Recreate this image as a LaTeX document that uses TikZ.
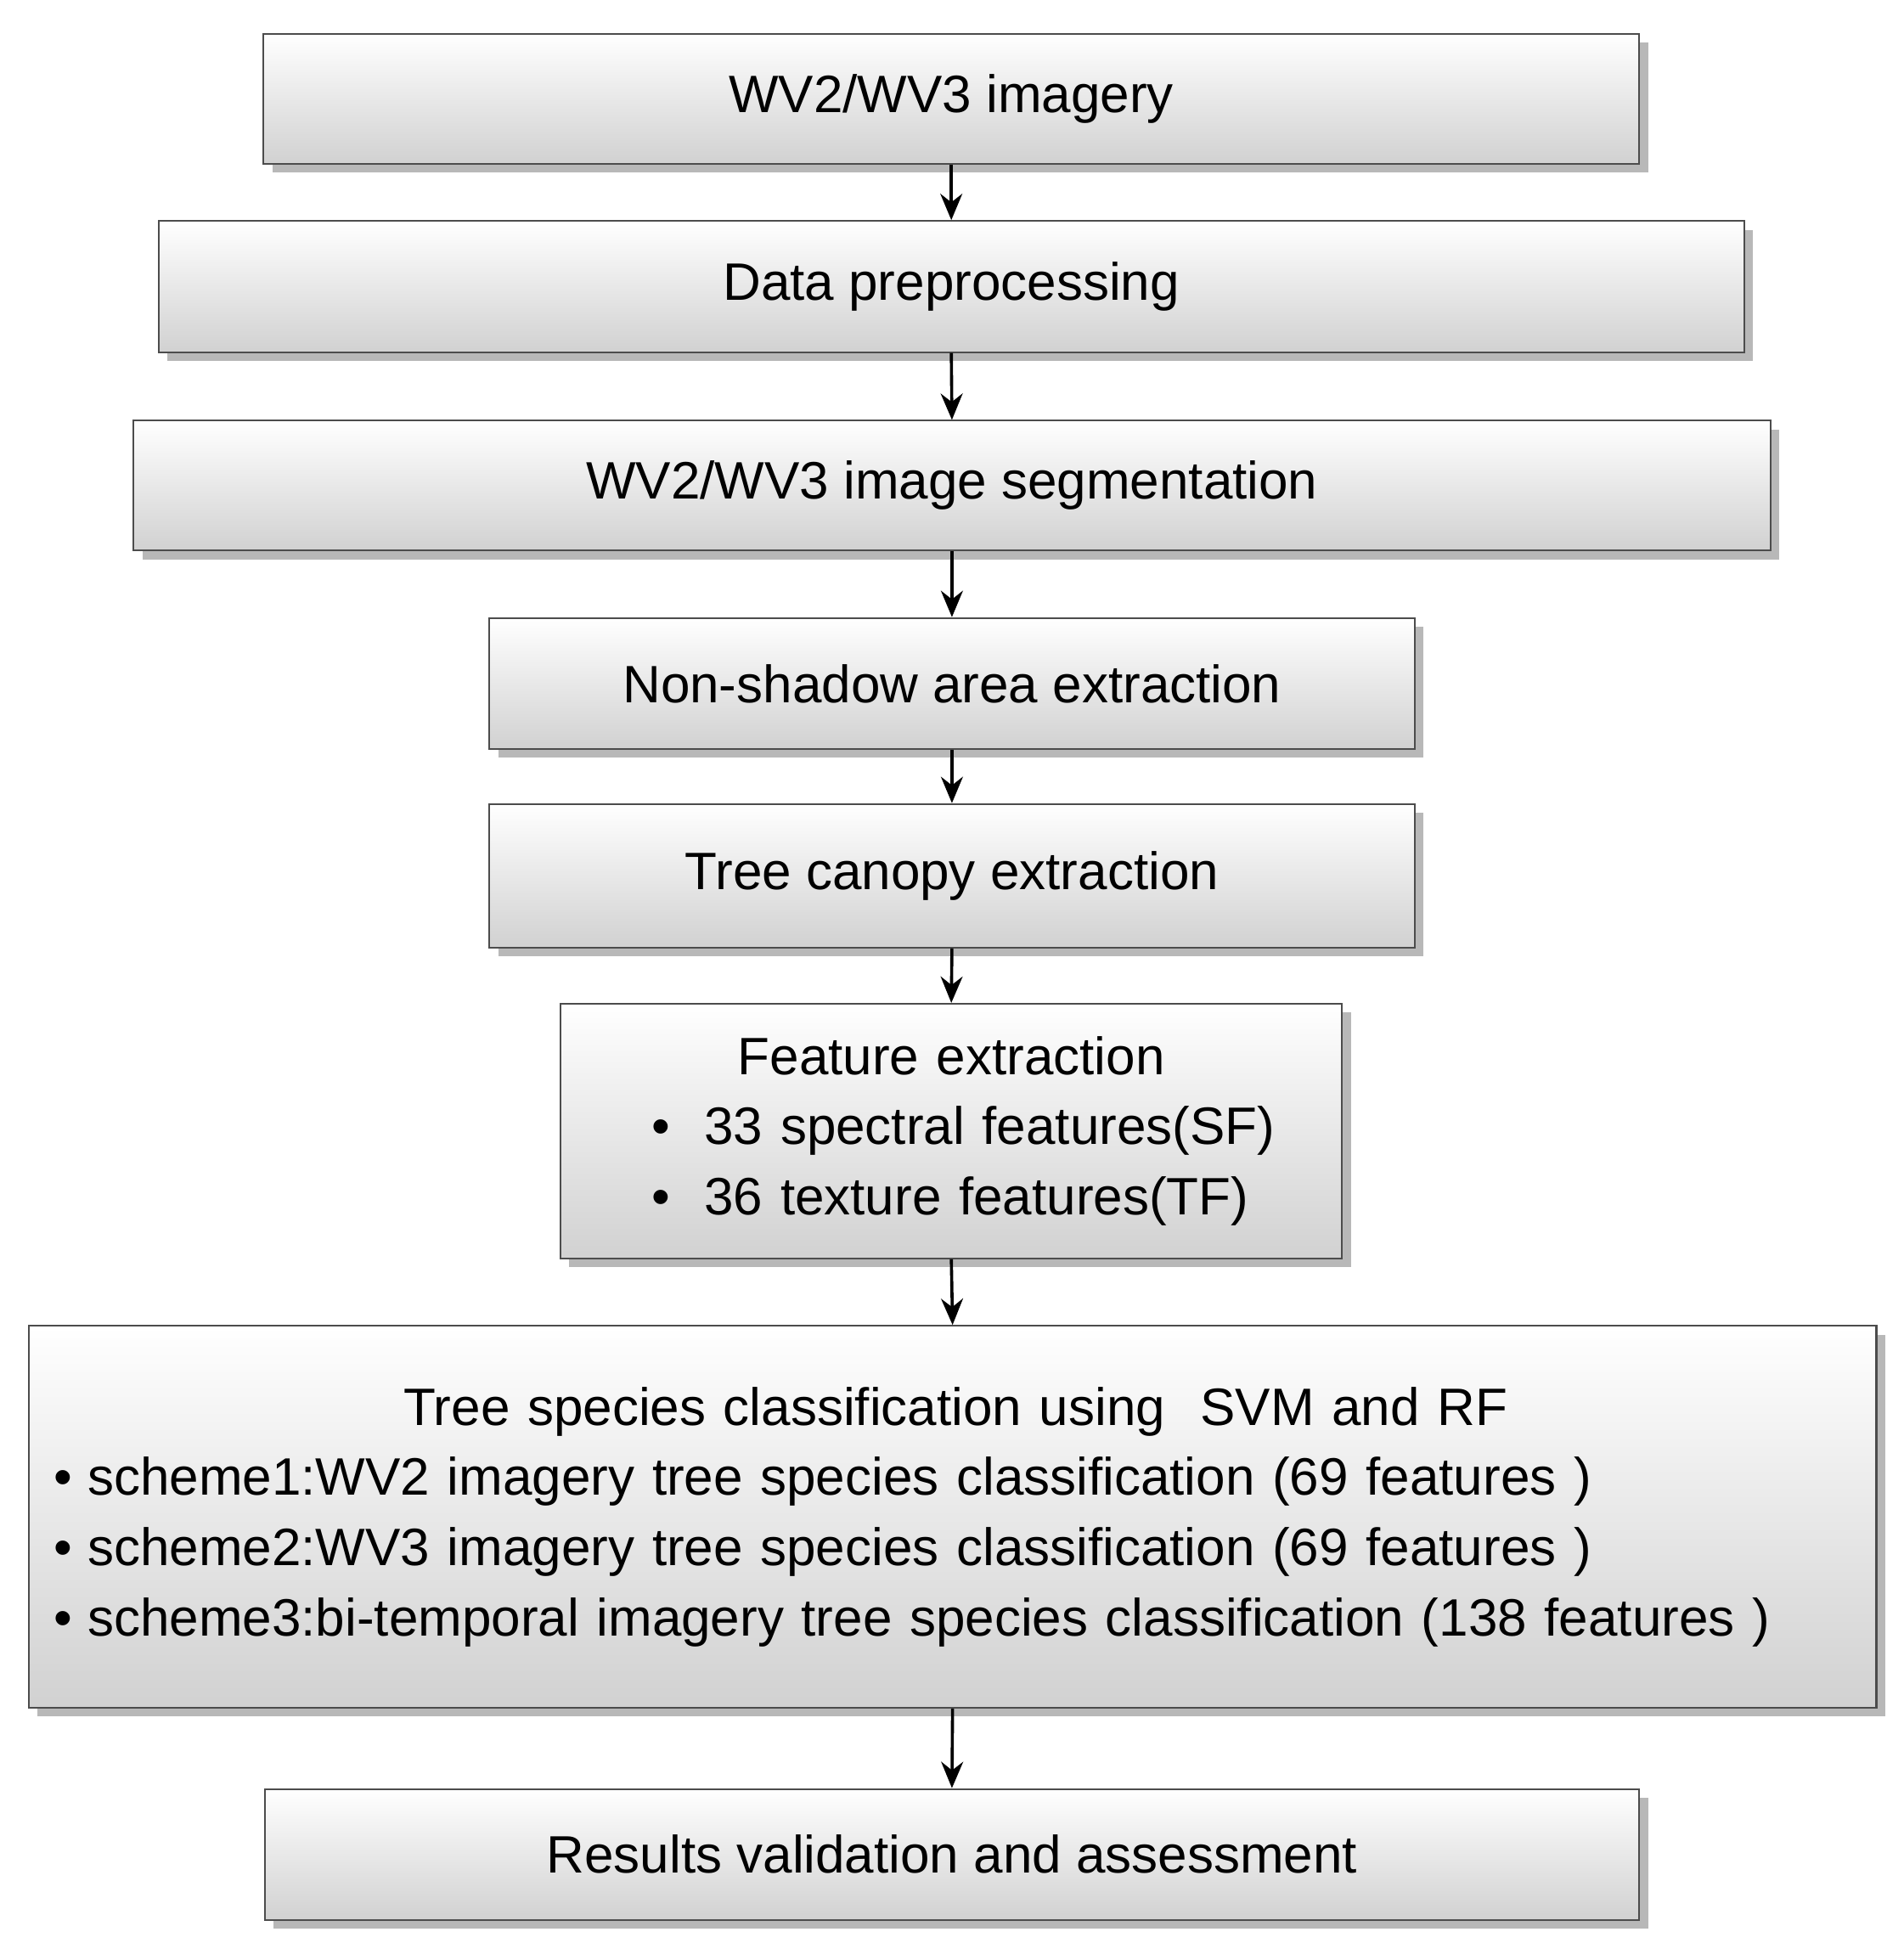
\documentclass[tikz,border=0pt]{standalone}
\usepackage{fontspec}
\setmainfont{Liberation Sans}
\usetikzlibrary{shadows,arrows.meta}
\begin{document}
\begin{tikzpicture}[x=0.02cm,y=-0.02cm,
  box/.style={draw=black!70,line width=0.8pt,top color=white,bottom color=black!18,
    drop shadow={shadow xshift=4pt,shadow yshift=-4pt,fill=black!35,opacity=0.8},
    font=\fontsize{24}{32}\selectfont,inner sep=0pt},
  arr/.style={-{Stealth[length=12pt,width=10pt]},line width=1.4pt}]
\useasboundingbox (0,0) rectangle (1525,1570);
\node[box,minimum width=1102*0.02cm,minimum height=104*0.02cm] (b1) at (762,79) {WV2/WV3 imagery};
\node[box,minimum width=1270*0.02cm,minimum height=105*0.02cm] (b2) at (762,229.5) {Data preprocessing};
\node[box,minimum width=1311*0.02cm,minimum height=104*0.02cm] (b3) at (762.5,389) {WV2/WV3 image segmentation};
\node[box,minimum width=741*0.02cm,minimum height=105*0.02cm] (b4) at (762.5,547.5) {Non-shadow area extraction};
\node[box,minimum width=741*0.02cm,minimum height=115*0.02cm] (b5) at (762.5,701.5) {Tree canopy extraction};
\node[box,minimum width=626*0.02cm,minimum height=204*0.02cm,text width=600*0.02cm,align=left] (b6) at (762,906)
 {\makebox[\linewidth]{Feature extraction}\\
  \hspace*{1.2cm}•\hspace{0.55cm}33 spectral features(SF)\\
  \hspace*{1.2cm}•\hspace{0.55cm}36 texture features(TF)};
\node[box,minimum width=1480*0.02cm,minimum height=306*0.02cm,text width=1440*0.02cm,align=left] (b7) at (763,1215)
 {\makebox[\linewidth]{\hspace*{0.1cm}Tree species classification using\ \ SVM and RF}\\
  •\hspace{0.25cm}scheme1:WV2 imagery tree species classification (69 features )\\
  •\hspace{0.25cm}scheme2:WV3 imagery tree species classification (69 features )\\
  •\hspace{0.25cm}scheme3:bi-temporal imagery tree species classification (138 features )};
\node[box,minimum width=1101*0.02cm,minimum height=105*0.02cm] (b8) at (762.5,1485.5) {Results validation and assessment};
\foreach \a/\b in {b1/b2,b2/b3,b3/b4,b4/b5,b5/b6,b6/b7,b7/b8}
  \draw[arr] (\a.south) -- (\b.north);
\end{tikzpicture}
\end{document}
